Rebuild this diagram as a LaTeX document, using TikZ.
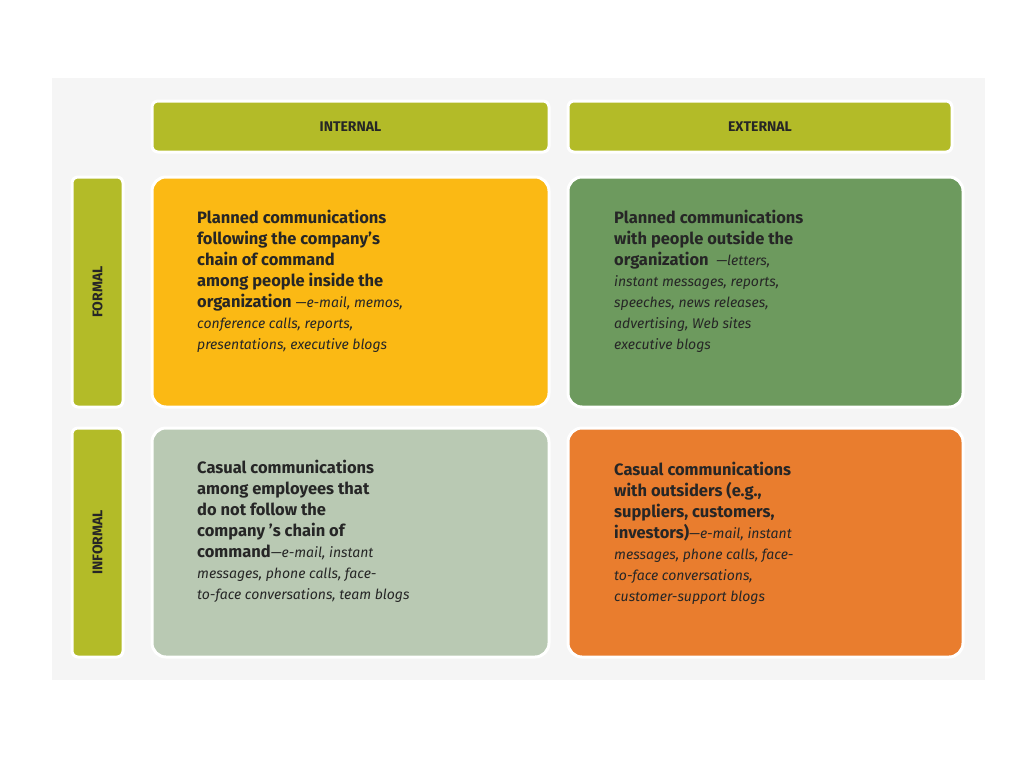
\documentclass[tikz,border=0pt]{standalone}
\usepackage{fontspec}
\setmainfont{Fira Sans}
\begin{document}
\begin{tikzpicture}[x=1pt,y=-1pt,
 box/.style={draw=white,line width=3pt,rounded corners=14pt},
 hdr/.style={draw=white,line width=3pt,rounded corners=6pt,fill=olive1},
 hfont/.style={font=\fontsize{14}{16}\selectfont\bfseries,text=black!85},
 txt/.style={anchor=north west,align=left,inner sep=0pt,font=\fontsize{16.5}{21}\selectfont\bfseries,text=black!85}]
\definecolor{olive1}{HTML}{B3BB28}
\definecolor{yel}{HTML}{FBB914}
\definecolor{grn}{HTML}{6D9A5E}
\definecolor{gry}{HTML}{B9C9B3}
\definecolor{org}{HTML}{E97D2E}
\useasboundingbox (0,0) rectangle (1024,768);
\fill[black!4] (52,78) rectangle (985,680);
\draw[hdr] (152,101) rectangle (549,152) node[midway,hfont] (hi) {INTERNAL};
\draw[hdr] (568,101) rectangle (952,152) node[midway,hfont] (he) {EXTERNAL};
\draw[hdr] (72,177) rectangle (123,407) node[midway,rotate=90,hfont] (vf) {FORMAL};
\draw[hdr] (72,428) rectangle (123,657) node[midway,rotate=90,hfont] (vi) {INFORMAL};
\draw[box,fill=yel] (152,177) rectangle (549,407);
\draw[box,fill=grn] (568,177) rectangle (963,407);
\draw[box,fill=gry] (152,428) rectangle (549,657);
\draw[box,fill=org] (568,428) rectangle (963,657);
\newcommand\ital[1]{{\fontsize{14}{19}\selectfont\mdseries\itshape #1}}
\node[txt] (t1) at (197,210) {Planned communications\\following the company's\\chain of command\\among people inside the\\organization \ital{---e-mail, memos,}\\\ital{conference calls, reports,}\\\ital{presentations, executive blogs}};
\node[txt] (t2) at (614,210) {Planned communications\\with people outside the\\organization \ital{\ ---letters,}\\\ital{instant messages, reports,}\\\ital{speeches, news releases,}\\\ital{advertising, Web sites}\\\ital{executive blogs}};
\node[txt] (t3) at (197,460) {Casual communications\\among employees that\\do not follow the\\company 's chain of\\command\ital{---e-mail, instant}\\\ital{messages, phone calls, face-}\\\ital{to-face conversations, team blogs}};
\node[txt] (t4) at (614,462) {Casual communications\\with outsiders (e.g.,\\suppliers, customers,\\investors)\ital{---e-mail, instant}\\\ital{messages, phone calls, face-}\\\ital{to-face conversations,}\\\ital{customer-support blogs}};
\end{tikzpicture}
\end{document}
